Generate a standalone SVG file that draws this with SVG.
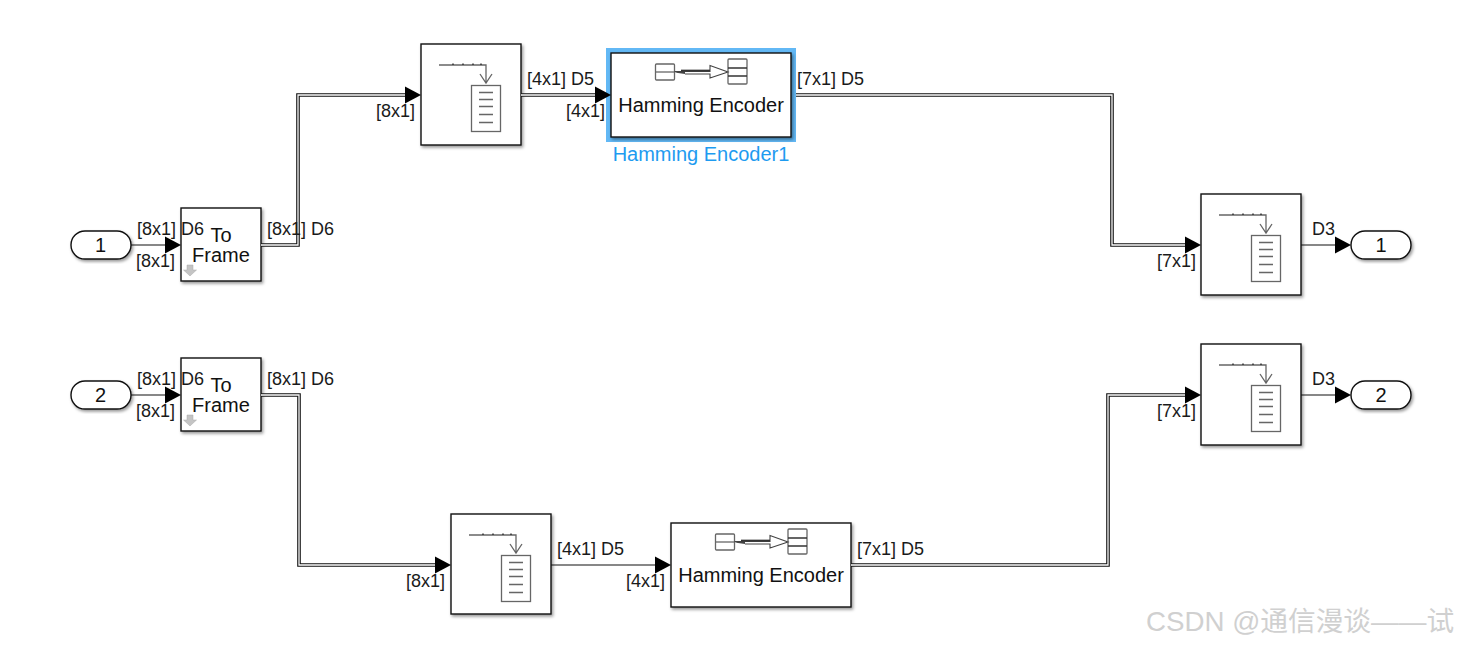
<svg xmlns="http://www.w3.org/2000/svg" width="1458" height="647" viewBox="0 0 1458 647">
<style>
text{font-family:"Liberation Sans",Arial,"Noto Sans CJK SC",sans-serif;font-size:16px;fill:#1a1a1a}
.lbl{font-size:18px}
.name{font-size:20px;fill:#111;text-anchor:middle}
.num{font-size:20px;fill:#111;text-anchor:middle}
.block{fill:#fff;stroke:#111;stroke-width:1.4;filter:url(#sh)}
.port{fill:#fff;stroke:#111;stroke-width:1.4;filter:url(#sh)}
.w{fill:none;stroke:#111;stroke-width:1.2}
.dbl{fill:none;stroke:#111;stroke-width:3.6}
.dbl2{fill:none;stroke:#fff;stroke-width:1.3}
.ico{fill:none;stroke:#666;stroke-width:1.3}
.wm{font-family:"Liberation Sans","Noto Sans CJK SC",sans-serif;font-size:27.700px;fill:#d0d0d0}
</style>
<defs>
<filter id="sh" x="-10%" y="-10%" width="125%" height="125%"><feDropShadow dx="1.5" dy="2" stdDeviation="1.5" flood-color="#000" flood-opacity="0.4"/></filter>
<path id="arr" d="M-16,-8.500 L0,0 L-16,8.500 Z" fill="#000"/>
<g id="bufIcon">
<path d="M18,21 H65 V39 M59,30 L65,39 L71,30" class="ico"/>
<path d="M32,21v-1.500M42,21v-1.500M52,21v-1.500M60,21v-1.500" stroke="#333" fill="none" stroke-width="1.500"/>
<rect x="50.500" y="41.500" width="29" height="46" class="ico"/>
<path d="M58,48.500H72M58,55.500H72M58,62.500H72M58,70.500H72M58,78.500H72" class="ico" stroke-width="1.500"/>
</g>
<g id="hamIcon">
<rect x="44.500" y="11" width="19" height="16" rx="1" class="ico"/><path d="M44.500,19H63.500" class="ico"/>
<rect x="117" y="6" width="19" height="25" rx="1" class="ico"/><path d="M117,15H136M117,23H136" stroke="#333" fill="none" stroke-width="1.300"/>
<path d="M63.500,18.500H99V12.500L117,19L99,25V21H74" fill="#fff" stroke="#444" stroke-width="1.100"/>
<path d="M63.500,19.500L74,17.500V21Z" fill="#444"/>
<path d="M70,17.500H99" stroke="#333" stroke-width="1.700"/>
</g>
<path id="dnArrow" d="M-3,0H3V5H6.500L0,11L-6.500,5H-3Z" fill="#c4c4c4" stroke="#aaa" stroke-width="0.500"/>
</defs>
<rect width="1458" height="647" fill="#fff"/>

<g id="in1"><rect class="port" x="71" y="231" width="60" height="28" rx="14"/><text class="num" x="100.500" y="252">1</text></g>
<g id="in2"><rect class="port" x="71" y="381" width="60" height="28" rx="14"/><text class="num" x="100.500" y="402">2</text></g>
<g id="out1"><rect class="port" x="1351" y="231" width="60" height="28" rx="14"/><text class="num" x="1381" y="252">1</text></g>
<g id="out2"><rect class="port" x="1351" y="381" width="60" height="28" rx="14"/><text class="num" x="1381" y="402">2</text></g>

<g id="toframe1"><rect class="block" x="181" y="208" width="80" height="73"/><text class="name" x="221" y="242">To</text><text class="name" x="221" y="262">Frame</text><use href="#dnArrow" x="190" y="265"/></g>
<g id="toframe2"><rect class="block" x="181" y="358" width="80" height="73"/><text class="name" x="221" y="392">To</text><text class="name" x="221" y="412">Frame</text><use href="#dnArrow" x="190" y="415"/></g>

<g id="buf1"><rect class="block" x="421" y="44" width="100" height="101"/><use href="#bufIcon" x="421" y="44"/></g>
<g id="buf2"><rect class="block" x="1201" y="194" width="100" height="101"/><use href="#bufIcon" x="1201" y="194"/></g>
<g id="buf3"><rect class="block" x="1201" y="344" width="100" height="101"/><use href="#bufIcon" x="1201" y="344"/></g>
<g id="buf4"><rect class="block" x="451" y="514" width="100" height="100"/><use href="#bufIcon" x="451" y="514"/></g>

<g id="enc1">
<rect x="606" y="48" width="190" height="94" fill="#62b8f5"/>
<rect class="block" x="611" y="53" width="180" height="84"/>
<use href="#hamIcon" x="611" y="53"/>
<text class="name" x="701" y="112">Hamming Encoder</text>
<text x="701" y="161" style="font-size:20px;text-anchor:middle;fill:#1e9bf0">Hamming Encoder1</text>
</g>
<g id="enc2">
<rect class="block" x="671" y="523" width="180" height="84"/>
<use href="#hamIcon" x="671" y="523"/>
<text class="name" x="761" y="582">Hamming Encoder</text>
</g>

<g id="connectors">
<path class="w" d="M131,245H170"/>
<path class="dbl" d="M261,245H298V95H410"/><path class="dbl2" d="M261,245H298V95H410"/>
<path class="dbl" d="M521,95H600"/><path class="dbl2" d="M521,95H600"/>
<path class="dbl" d="M796,95H1112V245H1190"/><path class="dbl2" d="M796,95H1112V245H1190"/>
<path class="w" d="M1301,245H1340"/>
<path class="w" d="M131,395H170"/>
<path class="dbl" d="M261,395H299V565H440"/><path class="dbl2" d="M261,395H299V565H440"/>
<path class="w" d="M551,565H660"/>
<path class="dbl" d="M851,565H1108V395H1190"/><path class="dbl2" d="M851,565H1108V395H1190"/>
<path class="w" d="M1301,395H1340"/>
<use href="#arr" x="181" y="245"/><use href="#arr" x="421" y="95"/><use href="#arr" x="611" y="95"/><use href="#arr" x="1201" y="245"/><use href="#arr" x="1351" y="245"/>
<use href="#arr" x="181" y="395"/><use href="#arr" x="451" y="565"/><use href="#arr" x="671" y="565"/><use href="#arr" x="1201" y="395"/><use href="#arr" x="1351" y="395"/>
</g>

<g id="labels">
<text class="lbl" x="137" y="235">[8x1]</text><text class="lbl" x="181" y="235">D6</text>
<text class="lbl" x="136" y="267">[8x1]</text>
<text class="lbl" x="267" y="235">[8x1] D6</text>
<text class="lbl" x="376" y="117">[8x1]</text>
<text class="lbl" x="527" y="85">[4x1] D5</text>
<text class="lbl" x="566" y="117">[4x1]</text>
<text class="lbl" x="797" y="85">[7x1] D5</text>
<text class="lbl" x="1157" y="267">[7x1]</text>
<text class="lbl" x="1312" y="235">D3</text>
<text class="lbl" x="137" y="385">[8x1]</text><text class="lbl" x="181" y="385">D6</text>
<text class="lbl" x="136" y="417">[8x1]</text>
<text class="lbl" x="267" y="385">[8x1] D6</text>
<text class="lbl" x="406" y="587">[8x1]</text>
<text class="lbl" x="557" y="555">[4x1] D5</text>
<text class="lbl" x="626" y="587">[4x1]</text>
<text class="lbl" x="857" y="555">[7x1] D5</text>
<text class="lbl" x="1157" y="417">[7x1]</text>
<text class="lbl" x="1312" y="385">D3</text>
</g>
<text class="wm" x="1146" y="631">CSDN @通信漫谈——试</text>
</svg>
